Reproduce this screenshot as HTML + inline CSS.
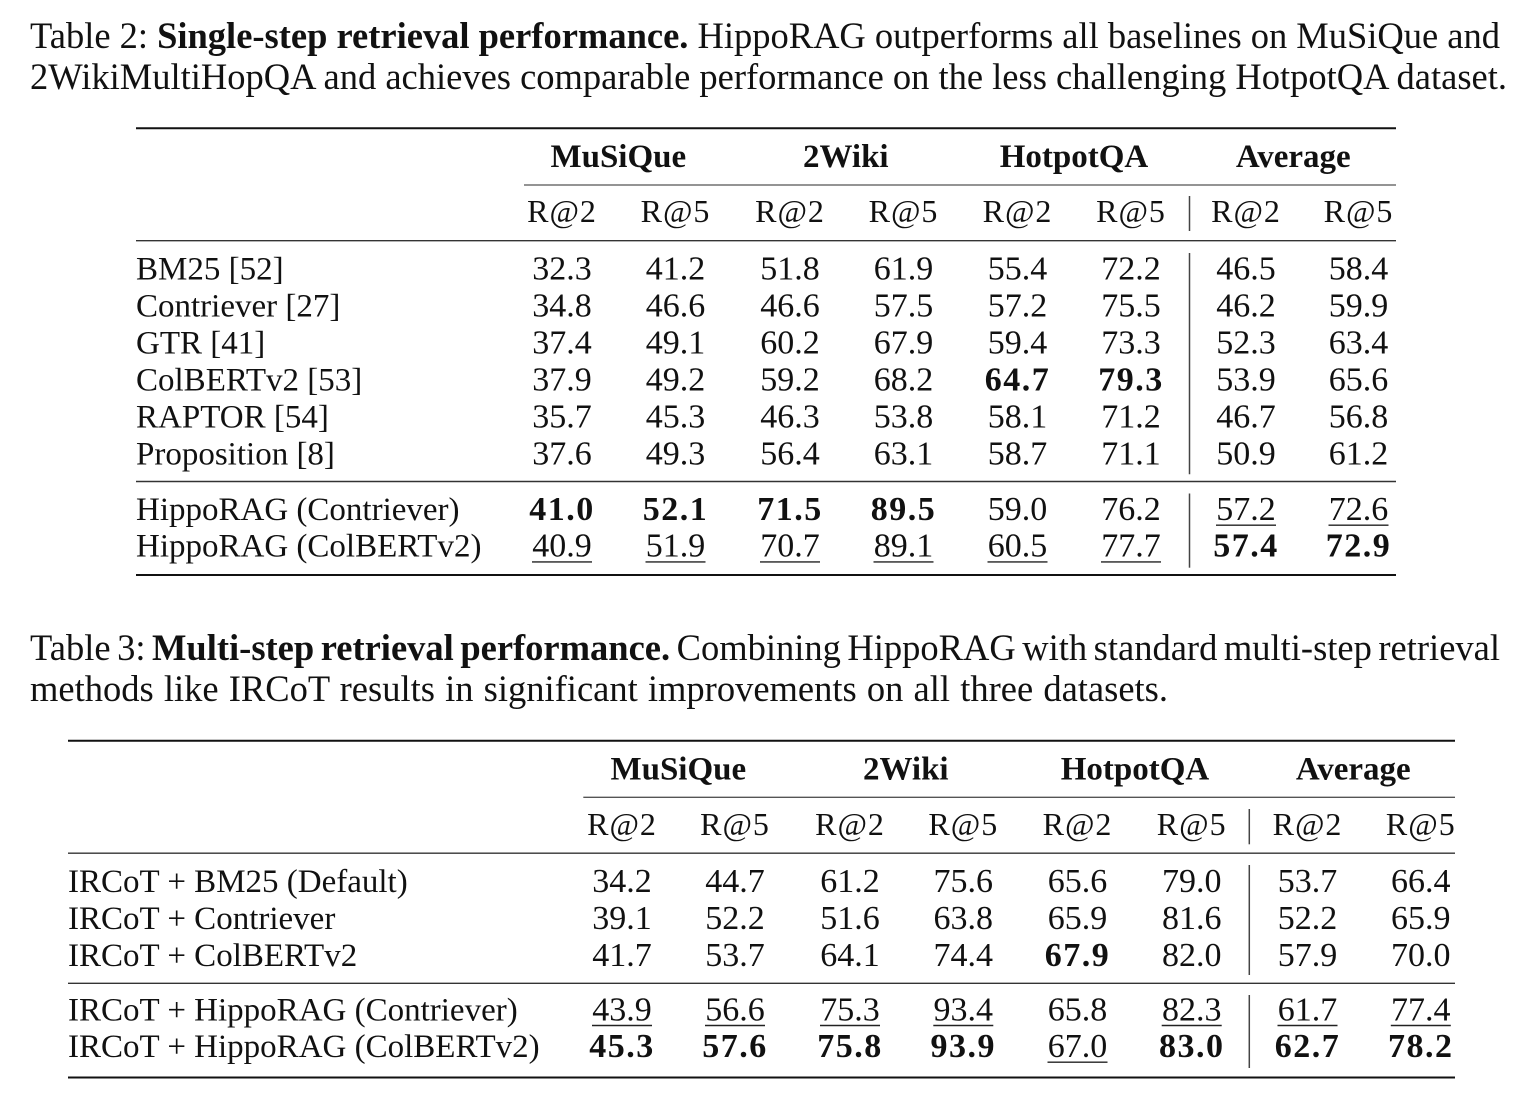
<!DOCTYPE html>
<html>
<head>
<meta charset="utf-8">
<style>
  html, body { margin:0; padding:0; background:#fff; }
  body { width:1536px; height:1108px; position:relative; overflow:hidden; }
  .cap { position:absolute; left:30px; font-family:"Liberation Serif", serif; font-size:36.5px; line-height:36.5px; color:#111; white-space:nowrap; text-align:justify; text-align-last:justify; word-spacing:-4px; }
  .cap b { font-weight:bold; }
  svg { position:absolute; left:0; top:0; }
  svg text { font-family:"Liberation Serif", serif; fill:#111; }
  .n { font-size:34px; text-anchor:middle; }
  .nb { font-size:34px; text-anchor:middle; font-weight:bold; letter-spacing:1.5px; }
  .l { font-size:33px; text-anchor:start; }
  .h { font-size:33px; text-anchor:middle; font-weight:bold; }
  .r { font-size:32px; text-anchor:middle; letter-spacing:1px; }
</style>
</head>
<body>
<div class="cap" style="top:17.7px;width:1470px;">Table 2: <b>Single-step retrieval performance.</b> HippoRAG outperforms all baselines on MuSiQue and</div>
<div class="cap" style="top:58.7px;width:1477px;">2WikiMultiHopQA and achieves comparable performance on the less challenging HotpotQA dataset.</div>
<div class="cap" style="top:630.4px;width:1470px;">Table 3: <b>Multi-step retrieval performance.</b> Combining HippoRAG with standard multi-step retrieval</div>
<div class="cap" style="top:671.4px;width:1138px;">methods like IRCoT results in significant improvements on all three datasets.</div>

<svg width="1536" height="1108" viewBox="0 0 1536 1108" xmlns="http://www.w3.org/2000/svg">
  <!-- ===== Table 2 ===== -->
  <line x1="136" y1="128.3" x2="1396" y2="128.3" stroke="#111" stroke-width="2"/>
  <text class="h" x="618.3" y="167">MuSiQue</text>
  <text class="h" x="845.8" y="167">2Wiki</text>
  <text class="h" x="1074" y="167">HotpotQA</text>
  <text class="h" x="1293.3" y="167">Average</text>
  <line x1="524" y1="185" x2="1396" y2="185" stroke="#555" stroke-width="1.3"/>
  <text class="r" x="562" y="222">R@2</text>
  <text class="r" x="675.5" y="222">R@5</text>
  <text class="r" x="790" y="222">R@2</text>
  <text class="r" x="903.5" y="222">R@5</text>
  <text class="r" x="1017.5" y="222">R@2</text>
  <text class="r" x="1131" y="222">R@5</text>
  <text class="r" x="1246" y="222">R@2</text>
  <text class="r" x="1358.5" y="222">R@5</text>
  <line x1="1189.5" y1="196" x2="1189.5" y2="231" stroke="#444" stroke-width="1.5"/>
  <line x1="136" y1="240.7" x2="1396" y2="240.7" stroke="#333" stroke-width="1.4"/>
  <line x1="1189.5" y1="253" x2="1189.5" y2="474.3" stroke="#444" stroke-width="1.5"/>

  <!-- rows -->
  <text class="l" x="136" y="279.3">BM25 [52]</text>
  <text class="n" x="562" y="279.3">32.3</text><text class="n" x="675.5" y="279.3">41.2</text><text class="n" x="790" y="279.3">51.8</text><text class="n" x="903.5" y="279.3">61.9</text><text class="n" x="1017.5" y="279.3">55.4</text><text class="n" x="1131" y="279.3">72.2</text><text class="n" x="1246" y="279.3">46.5</text><text class="n" x="1358.5" y="279.3">58.4</text>

  <text class="l" x="136" y="316.3">Contriever [27]</text>
  <text class="n" x="562" y="316.3">34.8</text><text class="n" x="675.5" y="316.3">46.6</text><text class="n" x="790" y="316.3">46.6</text><text class="n" x="903.5" y="316.3">57.5</text><text class="n" x="1017.5" y="316.3">57.2</text><text class="n" x="1131" y="316.3">75.5</text><text class="n" x="1246" y="316.3">46.2</text><text class="n" x="1358.5" y="316.3">59.9</text>

  <text class="l" x="136" y="353.3">GTR [41]</text>
  <text class="n" x="562" y="353.3">37.4</text><text class="n" x="675.5" y="353.3">49.1</text><text class="n" x="790" y="353.3">60.2</text><text class="n" x="903.5" y="353.3">67.9</text><text class="n" x="1017.5" y="353.3">59.4</text><text class="n" x="1131" y="353.3">73.3</text><text class="n" x="1246" y="353.3">52.3</text><text class="n" x="1358.5" y="353.3">63.4</text>

  <text class="l" x="136" y="390.3">ColBERTv2 [53]</text>
  <text class="n" x="562" y="390.3">37.9</text><text class="n" x="675.5" y="390.3">49.2</text><text class="n" x="790" y="390.3">59.2</text><text class="n" x="903.5" y="390.3">68.2</text><text class="nb" x="1017.5" y="390.3">64.7</text><text class="nb" x="1131" y="390.3">79.3</text><text class="n" x="1246" y="390.3">53.9</text><text class="n" x="1358.5" y="390.3">65.6</text>

  <text class="l" x="136" y="427.3">RAPTOR [54]</text>
  <text class="n" x="562" y="427.3">35.7</text><text class="n" x="675.5" y="427.3">45.3</text><text class="n" x="790" y="427.3">46.3</text><text class="n" x="903.5" y="427.3">53.8</text><text class="n" x="1017.5" y="427.3">58.1</text><text class="n" x="1131" y="427.3">71.2</text><text class="n" x="1246" y="427.3">46.7</text><text class="n" x="1358.5" y="427.3">56.8</text>

  <text class="l" x="136" y="464.3">Proposition [8]</text>
  <text class="n" x="562" y="464.3">37.6</text><text class="n" x="675.5" y="464.3">49.3</text><text class="n" x="790" y="464.3">56.4</text><text class="n" x="903.5" y="464.3">63.1</text><text class="n" x="1017.5" y="464.3">58.7</text><text class="n" x="1131" y="464.3">71.1</text><text class="n" x="1246" y="464.3">50.9</text><text class="n" x="1358.5" y="464.3">61.2</text>

  <line x1="136" y1="481.5" x2="1396" y2="481.5" stroke="#333" stroke-width="1.4"/>
  <line x1="1189.5" y1="493.5" x2="1189.5" y2="567.7" stroke="#444" stroke-width="1.5"/>

  <text class="l" x="136" y="520">HippoRAG (Contriever)</text>
  <text class="nb" x="562" y="520">41.0</text><text class="nb" x="675.5" y="520">52.1</text><text class="nb" x="790" y="520">71.5</text><text class="nb" x="903.5" y="520">89.5</text><text class="n" x="1017.5" y="520">59.0</text><text class="n" x="1131" y="520">76.2</text><text class="n" x="1246" y="520">57.2</text><text class="n" x="1358.5" y="520">72.6</text>
  <g stroke="#222" stroke-width="1.4">
    <line x1="1216" y1="525.2" x2="1276" y2="525.2"/>
    <line x1="1328.5" y1="525.2" x2="1388.5" y2="525.2"/>
  </g>

  <text class="l" x="136" y="556.7">HippoRAG (ColBERTv2)</text>
  <text class="n" x="562" y="556.7">40.9</text><text class="n" x="675.5" y="556.7">51.9</text><text class="n" x="790" y="556.7">70.7</text><text class="n" x="903.5" y="556.7">89.1</text><text class="n" x="1017.5" y="556.7">60.5</text><text class="n" x="1131" y="556.7">77.7</text><text class="nb" x="1246" y="556.7">57.4</text><text class="nb" x="1358.5" y="556.7">72.9</text>
  <g stroke="#222" stroke-width="1.4">
    <line x1="532" y1="561.9" x2="592" y2="561.9"/>
    <line x1="645.5" y1="561.9" x2="705.5" y2="561.9"/>
    <line x1="760" y1="561.9" x2="820" y2="561.9"/>
    <line x1="873.5" y1="561.9" x2="933.5" y2="561.9"/>
    <line x1="987.5" y1="561.9" x2="1047.5" y2="561.9"/>
    <line x1="1101" y1="561.9" x2="1161" y2="561.9"/>
  </g>

  <line x1="136" y1="575" x2="1396" y2="575" stroke="#111" stroke-width="2"/>

  <!-- ===== Table 3 ===== -->
  <line x1="68" y1="740.8" x2="1455" y2="740.8" stroke="#111" stroke-width="2"/>
  <text class="h" x="678.3" y="779.5">MuSiQue</text>
  <text class="h" x="905.8" y="779.5">2Wiki</text>
  <text class="h" x="1135" y="779.5">HotpotQA</text>
  <text class="h" x="1353.3" y="779.5">Average</text>
  <line x1="583.3" y1="797.3" x2="1455" y2="797.3" stroke="#555" stroke-width="1.3"/>
  <text class="r" x="622" y="835">R@2</text>
  <text class="r" x="735" y="835">R@5</text>
  <text class="r" x="850" y="835">R@2</text>
  <text class="r" x="963.3" y="835">R@5</text>
  <text class="r" x="1077.5" y="835">R@2</text>
  <text class="r" x="1191.7" y="835">R@5</text>
  <text class="r" x="1307.5" y="835">R@2</text>
  <text class="r" x="1420.8" y="835">R@5</text>
  <line x1="1249.3" y1="809" x2="1249.3" y2="844.3" stroke="#444" stroke-width="1.5"/>
  <line x1="68" y1="853.2" x2="1455" y2="853.2" stroke="#333" stroke-width="1.4"/>
  <line x1="1249.3" y1="865" x2="1249.3" y2="975" stroke="#444" stroke-width="1.5"/>

  <text class="l" x="68" y="891.8">IRCoT + BM25 (Default)</text>
  <text class="n" x="622" y="891.8">34.2</text><text class="n" x="735" y="891.8">44.7</text><text class="n" x="850" y="891.8">61.2</text><text class="n" x="963.3" y="891.8">75.6</text><text class="n" x="1077.5" y="891.8">65.6</text><text class="n" x="1191.7" y="891.8">79.0</text><text class="n" x="1307.5" y="891.8">53.7</text><text class="n" x="1420.8" y="891.8">66.4</text>

  <text class="l" x="68" y="928.8">IRCoT + Contriever</text>
  <text class="n" x="622" y="928.8">39.1</text><text class="n" x="735" y="928.8">52.2</text><text class="n" x="850" y="928.8">51.6</text><text class="n" x="963.3" y="928.8">63.8</text><text class="n" x="1077.5" y="928.8">65.9</text><text class="n" x="1191.7" y="928.8">81.6</text><text class="n" x="1307.5" y="928.8">52.2</text><text class="n" x="1420.8" y="928.8">65.9</text>

  <text class="l" x="68" y="965.8">IRCoT + ColBERTv2</text>
  <text class="n" x="622" y="965.8">41.7</text><text class="n" x="735" y="965.8">53.7</text><text class="n" x="850" y="965.8">64.1</text><text class="n" x="963.3" y="965.8">74.4</text><text class="nb" x="1077.5" y="965.8">67.9</text><text class="n" x="1191.7" y="965.8">82.0</text><text class="n" x="1307.5" y="965.8">57.9</text><text class="n" x="1420.8" y="965.8">70.0</text>

  <line x1="68" y1="983.3" x2="1455" y2="983.3" stroke="#333" stroke-width="1.4"/>
  <line x1="1249.3" y1="995" x2="1249.3" y2="1068" stroke="#444" stroke-width="1.5"/>

  <text class="l" x="68" y="1020.3">IRCoT + HippoRAG (Contriever)</text>
  <text class="n" x="622" y="1020.3">43.9</text><text class="n" x="735" y="1020.3">56.6</text><text class="n" x="850" y="1020.3">75.3</text><text class="n" x="963.3" y="1020.3">93.4</text><text class="n" x="1077.5" y="1020.3">65.8</text><text class="n" x="1191.7" y="1020.3">82.3</text><text class="n" x="1307.5" y="1020.3">61.7</text><text class="n" x="1420.8" y="1020.3">77.4</text>
  <g stroke="#222" stroke-width="1.4">
    <line x1="592" y1="1025.5" x2="652" y2="1025.5"/>
    <line x1="705" y1="1025.5" x2="765" y2="1025.5"/>
    <line x1="820" y1="1025.5" x2="880" y2="1025.5"/>
    <line x1="933.3" y1="1025.5" x2="993.3" y2="1025.5"/>
    <line x1="1161.7" y1="1025.5" x2="1221.7" y2="1025.5"/>
    <line x1="1277.5" y1="1025.5" x2="1337.5" y2="1025.5"/>
    <line x1="1390.8" y1="1025.5" x2="1450.8" y2="1025.5"/>
  </g>

  <text class="l" x="68" y="1057">IRCoT + HippoRAG (ColBERTv2)</text>
  <text class="nb" x="622" y="1057">45.3</text><text class="nb" x="735" y="1057">57.6</text><text class="nb" x="850" y="1057">75.8</text><text class="nb" x="963.3" y="1057">93.9</text><text class="n" x="1077.5" y="1057">67.0</text><text class="nb" x="1191.7" y="1057">83.0</text><text class="nb" x="1307.5" y="1057">62.7</text><text class="nb" x="1420.8" y="1057">78.2</text>
  <g stroke="#222" stroke-width="1.4">
    <line x1="1047.5" y1="1062.2" x2="1107.5" y2="1062.2"/>
  </g>

  <line x1="68" y1="1077.5" x2="1455" y2="1077.5" stroke="#111" stroke-width="2"/>
</svg>
</body>
</html>
